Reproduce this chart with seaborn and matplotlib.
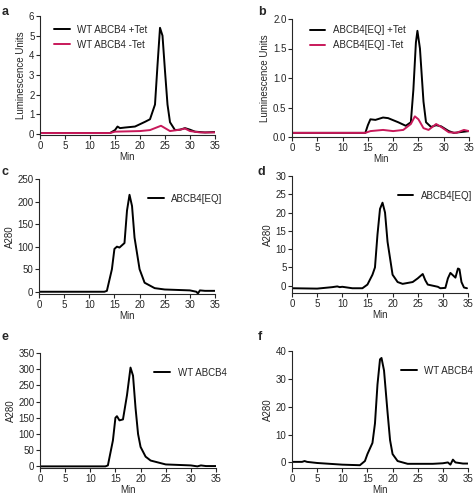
import numpy as np
import pandas as pd
import seaborn as sns
import matplotlib.pyplot as plt

sns.set_style("ticks")
plt.rcParams['font.family'] = ['Liberation Sans', 'DejaVu Sans']

# panel a
a_x_pos = [0, 14, 15, 15.5, 16, 17, 19, 20, 21, 22, 23, 23.5, 24, 24.5, 25, 25.5, 26, 27, 28, 29, 30, 31, 33, 35]
a_y_pos = [0.05, 0.05, 0.2, 0.38, 0.3, 0.33, 0.38, 0.5, 0.62, 0.75, 1.5, 3.5, 5.4, 5.0, 3.2, 1.5, 0.6, 0.2, 0.22, 0.3, 0.22, 0.12, 0.08, 0.1]
a_x_neg = [0, 14, 15, 20, 22, 23.5, 24.2, 25, 26, 28, 29, 30, 32, 35]
a_y_neg = [0.05, 0.05, 0.12, 0.15, 0.2, 0.35, 0.42, 0.3, 0.15, 0.22, 0.28, 0.15, 0.08, 0.08]
# panel b
b_x_pos = [0, 14.5, 15, 15.5, 16.5, 18, 19, 21, 22.5, 23.5, 24, 24.5, 24.8, 25.3, 26, 26.5, 27.5, 28.5, 29.5, 31, 32, 35]
b_y_pos = [0.07, 0.07, 0.2, 0.3, 0.29, 0.33, 0.32, 0.25, 0.19, 0.25, 0.8, 1.6, 1.8, 1.5, 0.6, 0.25, 0.17, 0.2, 0.18, 0.1, 0.07, 0.1]
b_x_neg = [0, 14.5, 15.5, 18, 20, 22, 23.5, 24.3, 25, 26, 27, 28.5, 29.5, 31, 32.5, 34, 35]
b_y_neg = [0.07, 0.07, 0.1, 0.12, 0.1, 0.12, 0.22, 0.35, 0.3, 0.15, 0.12, 0.22, 0.17, 0.08, 0.07, 0.12, 0.1]
# panel c
c_x = [0, 13, 13.5, 14.5, 15, 15.5, 16, 17, 17.5, 18, 18.5, 19, 20, 21, 23, 25, 30, 31.3, 31.6, 32, 33, 35]
c_y = [0, 0, 2, 50, 95, 100, 98, 108, 180, 215, 190, 120, 50, 20, 8, 5, 3, 0, -4, 3, 2, 2]
# panel d
d_x = [0, 5, 8, 9, 9.5, 10, 12, 14, 15, 16, 16.5, 17, 17.5, 18, 18.5, 19, 20, 21, 22, 24, 25, 26, 26.5, 27, 28, 29, 29.5, 30.5, 31, 31.5, 32.5, 33, 33.3, 33.7, 34.2, 34.8]
d_y = [-0.7, -0.8, -0.4, -0.2, -0.4, -0.3, -0.7, -0.7, 0.3, 3, 5, 14, 21, 22.7, 20, 12, 3, 1, 0.5, 1, 2, 3.2, 1.5, 0.3, 0, -0.3, -0.7, -0.6, 2, 3.5, 2.2, 4.7, 4.5, 1, -0.5, -0.7]
# panel e
e_x = [0, 13, 13.5, 14.5, 15, 15.3, 15.8, 16.5, 17.3, 18, 18.5, 19, 19.5, 20, 21, 22, 25, 30, 31.3, 32, 33, 35]
e_y = [0, 0, 3, 80, 150, 155, 142, 145, 220, 305, 280, 180, 100, 60, 30, 18, 6, 3, 0, 3, 1, 1]
# panel f
f_x = [0, 2, 2.5, 3, 5, 10, 13.5, 14.5, 15, 16, 16.5, 17, 17.5, 17.8, 18.3, 19, 19.5, 20, 21, 23, 28, 30, 31, 31.5, 32, 32.5, 34, 35]
f_y = [0.2, 0.2, 0.5, 0.2, -0.2, -0.8, -1, 0.5, 3, 7, 14, 28, 37, 37.5, 33, 18, 8, 3, 0.5, -0.5, -0.5, -0.3, 0, -0.8, 1, 0, -0.4, -0.4]

fig = plt.figure(figsize=(4.74, 4.95), dpi=100)
W, H = 474, 495

def make_ax(l, r, top, bot):
    return fig.add_axes([l / W, 1 - bot / H, (r - l) / W, (bot - top) / H])

def style(ax, ylim, yticks, ylabel, leg_at, fmt=None):
    ax.set_xlim(0, 35)
    ax.set_xticks(range(0, 36, 5))
    ax.set_ylim(*ylim)
    ax.set_yticks(yticks)
    if fmt:
        ax.set_yticklabels([fmt.format(t) for t in yticks])
    ax.set_xlabel("Min", fontsize=7, labelpad=1)
    ax.set_ylabel(ylabel, fontsize=7, labelpad=2)
    ax.tick_params(labelsize=7, length=3, width=0.8, pad=1)
    sns.despine(ax=ax)
    for s in ax.spines.values():
        s.set_linewidth(0.8)
    ax.legend(frameon=False, fontsize=7, handlelength=1.6, loc="upper left",
              bbox_to_anchor=leg_at)

ax = make_ax(40, 215, 16, 135)
sns.lineplot(x=a_x_pos, y=a_y_pos, ax=ax, color="black", lw=1.4, label="WT ABCB4 +Tet")
sns.lineplot(x=a_x_neg, y=a_y_neg, ax=ax, color="#c8195a", lw=1.4, label="WT ABCB4 -Tet")
style(ax, (-0.05, 6), range(0, 7), "Luminescence Units", (0.03, 1.0))

ax = make_ax(292, 469, 19, 137)
sns.lineplot(x=b_x_pos, y=b_y_pos, ax=ax, color="black", lw=1.4, label="ABCB4[EQ] +Tet")
sns.lineplot(x=b_x_neg, y=b_y_neg, ax=ax, color="#c8195a", lw=1.4, label="ABCB4[EQ] -Tet")
style(ax, (0, 2.0), [0, 0.5, 1.0, 1.5, 2.0], "Luminescence Units", (0.05, 1.02), "{:.1f}")

ax = make_ax(39, 215, 179, 294)
sns.lineplot(x=c_x, y=c_y, ax=ax, color="black", lw=1.4, label="ABCB4[EQ]")
style(ax, (-5, 250), range(0, 251, 50), "A280", (0.57, 0.95))

ax = make_ax(292, 468, 176, 293)
sns.lineplot(x=d_x, y=d_y, ax=ax, color="black", lw=1.4, label="ABCB4[EQ]")
style(ax, (-2, 30), range(0, 31, 5), "A280", (0.55, 0.95))

ax = make_ax(40, 216, 353, 468)
sns.lineplot(x=e_x, y=e_y, ax=ax, color="black", lw=1.4, label="WT ABCB4")
style(ax, (-5, 350), range(0, 351, 50), "A280", (0.6, 0.95))

ax = make_ax(292, 468, 351, 468)
sns.lineplot(x=f_x, y=f_y, ax=ax, color="black", lw=1.4, label="WT ABCB4")
style(ax, (-2, 40), range(0, 41, 10), "A280", (0.57, 0.95))

for lab, (px, py) in zip("abcdef", [(2, 12), (258, 12), (2, 172), (258, 172), (2, 337), (258, 337)]):
    fig.text(px / W, 1 - py / H, lab, fontsize=9, fontweight="bold", va="center")

fig.savefig("out.png", dpi=100)
